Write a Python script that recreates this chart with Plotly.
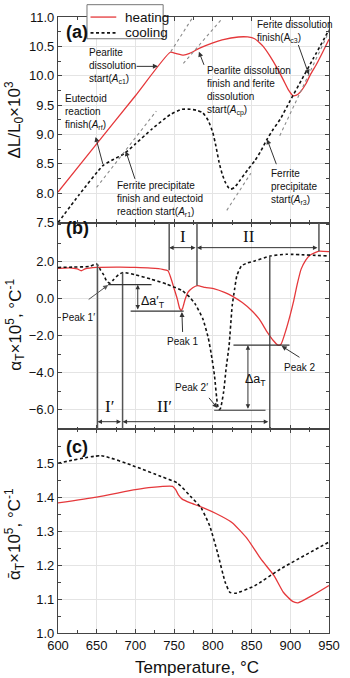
import plotly.graph_objects as go
from plotly.subplots import make_subplots

# ---------------- (a) relative length change, x10^3 ----------------
heat_a_T = [600, 645, 700, 745, 752, 762, 770, 783, 800, 812, 833, 845, 854, 865,
            874, 883, 891, 898, 903.5, 908, 912, 920, 926, 934, 941, 950]
heat_a_v = [8.02, 8.76, 9.66, 10.40, 10.38, 10.35, 10.38, 10.47, 10.56, 10.61, 10.66,
            10.66, 10.63, 10.50, 10.33, 10.13, 9.93, 9.75, 9.66, 9.67, 9.71, 9.86,
            10.02, 10.20, 10.38, 10.62]
cool_a_T = [600, 627, 658, 672, 685, 700, 721, 745, 760, 771, 780, 787, 794, 800, 804,
            808, 812, 816, 820, 823, 828, 835, 845, 854, 862, 870, 878, 887, 900, 915,
            930, 950]
cool_a_v = [7.50, 7.97, 8.47, 8.58, 8.67, 8.84, 9.09, 9.34, 9.43, 9.43, 9.41, 9.37,
            9.24, 9.03, 8.80, 8.53, 8.33, 8.19, 8.10, 8.07, 8.10, 8.22, 8.40, 8.55,
            8.72, 8.92, 9.09, 9.26, 9.58, 9.94, 10.30, 10.78]

# tangent construction lines (start/end temperature and value)
tangents = [
    ([745.7, 774.3], [10.41, 11.0]),
    ([761.9, 810.5], [10.21, 10.95]),
    ([886.4, 950.0], [8.98, 10.75]),
    ([818.0, 849.0], [7.71, 8.34]),
    ([649.8, 727.0], [8.10, 9.40]),
]

# ---------------- (b) instantaneous CTE, x10^5 ----------------
heat_b_T = [600, 615, 625, 630, 635, 650, 680, 700, 720, 735, 742, 746, 750, 754, 757,
            759, 761, 764, 768, 774, 780, 790, 802, 815, 825, 838, 850, 860, 870, 878,
            884, 888, 895, 900, 904, 909, 914, 920, 925, 932, 937, 950]
heat_b_v = [1.65, 1.68, 1.62, 1.52, 1.62, 1.70, 1.72, 1.70, 1.66, 1.60, 1.52, 1.10,
            0.55, 0.00, -0.50, -0.62, -0.50, -0.05, 0.36, 0.60, 0.72, 0.62, 0.54, 0.35,
            0.15, -0.20, -0.63, -1.10, -1.78, -2.25, -2.50, -2.45, -1.60, -0.85, -0.18,
            0.80, 1.61, 2.10, 2.35, 2.50, 2.58, 2.55]
cool_b_T = [600, 620, 640, 650, 655, 659, 663, 667, 672, 678, 684, 700, 720, 740, 760,
            770, 777, 787, 794, 798, 802, 806, 808, 810, 814, 817, 821, 825, 828, 831,
            837, 845, 854, 874, 895, 950]
cool_b_v = [1.70, 1.72, 1.75, 1.88, 1.55, 1.30, 0.95, 0.85, 1.05, 1.30, 1.43, 1.30,
            1.07, 0.80, 0.45, 0.10, -0.27, -1.07, -2.10, -3.00, -4.11, -5.72, -5.98,
            -5.90, -5.00, -3.80, -2.50, -0.36, 0.50, 1.25, 1.79, 1.95, 2.05, 2.32,
            2.41, 2.32]

# ---------------- (c) mean CTE, x10^5 ----------------
heat_c_T = [600, 650, 700, 721, 748, 752, 756, 760, 771, 783, 804, 825, 845, 862, 879,
            891, 903, 910, 928, 950]
heat_c_v = [1.383, 1.400, 1.422, 1.429, 1.432, 1.422, 1.405, 1.395, 1.383, 1.373,
            1.352, 1.325, 1.276, 1.218, 1.169, 1.120, 1.093, 1.089, 1.110, 1.140]
cool_c_T = [600, 656, 700, 733, 754, 771, 785, 796, 806, 816, 822, 829, 854, 887, 950]
cool_c_v = [1.500, 1.522, 1.490, 1.461, 1.442, 1.403, 1.368, 1.315, 1.237, 1.149,
            1.120, 1.117, 1.139, 1.188, 1.268]

x_ticks = [600, 650, 700, 750, 800, 850, 900, 950]
series_names = ["heating", "cooling"]

RED = "#e5383b"
INK = "#111111"
GREY = "#555555"
SANS = "Liberation Sans, Arial, sans-serif"
SERIF = "Liberation Serif, Times New Roman, serif"

fig = make_subplots(rows=3, cols=1, shared_xaxes=True, vertical_spacing=0)

heat_line = dict(color=RED, width=1.3)
cool_line = dict(color=INK, width=1.6, dash="3px,2.5px")

for row, (hT, hv, cT, cv) in enumerate([
        (heat_a_T, heat_a_v, cool_a_T, cool_a_v),
        (heat_b_T, heat_b_v, cool_b_T, cool_b_v),
        (heat_c_T, heat_c_v, cool_c_T, cool_c_v)], start=1):
    fig.add_trace(go.Scatter(x=hT, y=hv, mode="lines", name=series_names[0],
                             line=dict(**heat_line, shape="spline", smoothing=0.5),
                             showlegend=False), row=row, col=1)
    fig.add_trace(go.Scatter(x=cT, y=cv, mode="lines", name=series_names[1],
                             line=dict(**cool_line, shape="spline", smoothing=0.5),
                             showlegend=False), row=row, col=1)

for tx, ty in tangents:
    fig.add_trace(go.Scatter(x=tx, y=ty, mode="lines", showlegend=False,
                             line=dict(color="#8a8a8a", width=1.1, dash="dot")),
                  row=1, col=1)

annotations = []
shapes = []


def label(text, x, y, xref, yref, size=10, anchor="left", font=SANS, **kw):
    annotations.append(dict(text=text, x=x, y=y, xref=xref, yref=yref, showarrow=False,
                            xanchor=anchor, yanchor="middle", align=anchor,
                            font=dict(family=font, size=size, color=INK), **kw))


def arrow(head, tail, xref, yref, both=False, color="#333333", size=1.0):
    annotations.append(dict(text="", x=head[0], y=head[1], ax=tail[0], ay=tail[1],
                            xref=xref, yref=yref, axref=xref, ayref=yref,
                            showarrow=True, arrowhead=2, arrowsize=size, arrowwidth=1,
                            arrowcolor=color,
                            arrowside="end+start" if both else "end"))


# ---- panel (a) notes ----
label("Pearlite<br>dissolution<br>start(<i>A</i><sub>c1</sub>)", 637.4, 10.17, "x", "y")
arrow((729, 10.16), (699.6, 10.16), "x", "y")
label("Eutectoid<br>reaction<br>finish(<i>A</i><sub>rf</sub>)", 606.2, 9.38, "x", "y")
arrow((648.6, 8.96), (658.5, 8.47), "x", "y")
label("Pearlite dissolution<br>finish and ferite<br>dissolution<br>start(<i>A</i><sub>cp</sub>)",
      789.3, 9.74, "x", "y")
arrow((782, 10.41), (789.3, 10.16), "x", "y")
label("Ferite dissolution<br>finish(A<sub>c3</sub>)", 854, 10.76, "x", "y")
arrow((924, 10.02), (909.7, 10.55), "x", "y")
label("Ferrite precipitate<br>finish and eutectoid<br>reaction start(<i>A</i><sub>r1</sub>)",
      673.5, 7.91, "x", "y")
arrow((687.5, 8.72), (700, 8.22), "x", "y")
label("Ferrite<br>precipitate<br>start(<i>A</i><sub>r3</sub>)", 872.7, 8.10, "x", "y")
arrow((870, 8.92), (882.7, 8.47), "x", "y")


# ---- panel (b) construction ----
def seg(x0, y0, x1, y1, xref="x2", yref="y2", width=1.5, color=GREY, dash=None):
    shapes.append(dict(type="line", x0=x0, y0=y0, x1=x1, y1=y1, xref=xref, yref=yref,
                       line=dict(color=color, width=width, dash=dash)))


B_TOP, B_BOT = 4.12, -7.05
seg(743.6, B_TOP, 743.6, 1.55)
seg(779.5, B_TOP, 779.5, 0.72)
seg(937.0, B_TOP, 937.0, 2.58)
seg(651.0, B_BOT, 651.0, 1.88)
seg(683.4, B_BOT, 683.4, 1.43)
seg(873.5, B_BOT, 873.5, 2.32)
seg(664.8, 0.77, 720.8, 0.77, width=1.2, color="#333333")
seg(693.8, -0.66, 762.3, -0.66, width=1.2, color="#333333")
seg(826.6, -2.50, 899.0, -2.50, width=1.2, color="#333333")
seg(801.7, -6.02, 868.0, -6.02, width=1.2, color="#333333")

arrow((743.6, 2.77), (779.5, 2.77), "x2", "y2", both=True, size=0.9)
arrow((779.5, 2.77), (937.0, 2.77), "x2", "y2", both=True, size=0.9)
arrow((651.0, -6.64), (683.4, -6.64), "x2", "y2", both=True, size=0.9)
arrow((683.4, -6.64), (873.5, -6.64), "x2", "y2", both=True, size=0.9)
arrow((703.0, 0.77), (703.0, -0.66), "x2", "y2", both=True, size=0.9)
arrow((845.3, -2.50), (845.3, -6.02), "x2", "y2", both=True, size=0.9)

label("I", 761.5, 3.35, "x2", "y2", size=17, anchor="center", font=SERIF)
label("II", 847.0, 3.35, "x2", "y2", size=17, anchor="center", font=SERIF)
label("I\u2032", 667.0, -5.8, "x2", "y2", size=17, anchor="center", font=SERIF)
label("II\u2032", 737.0, -5.8, "x2", "y2", size=17, anchor="center", font=SERIF)
label("\u0394a\u2032<sub>T</sub>", 723.0, -0.16, "x2", "y2", size=12.5, anchor="center")
label("\u0394a<sub>T</sub>", 855.6, -4.38, "x2", "y2", size=12.5, anchor="center")

label("Peak 1\u2032", 626.0, -0.98, "x2", "y2", anchor="center")
arrow((664.8, 0.75), (637.7, -0.09), "x2", "y2", color="#555555")
label("Peak 1", 762.0, -2.32, "x2", "y2", anchor="center")
arrow((760.0, -0.71), (761.0, -1.87), "x2", "y2")
label("Peak 2", 912.6, -3.70, "x2", "y2", anchor="center")
arrow((888.9, -2.55), (913.8, -3.21), "x2", "y2")
label("Peak 2\u2032", 771.8, -4.78, "x2", "y2", anchor="center")
arrow((805.9, -5.90), (793.4, -5.27), "x2", "y2")

# ---- legend box drawn in paper coordinates ----
LX0, LX1, LY0, LY1 = 0.107, 0.388, 0.9647, 1.02
shapes.append(dict(type="rect", xref="paper", yref="paper", x0=LX0, x1=LX1, y0=LY0,
                   y1=LY1, fillcolor="white", line=dict(color="#777777", width=1),
                   layer="above"))
for name, yy, style in [(series_names[0], 0.9999, dict(color=RED, width=1.3)),
                        (series_names[1], 0.9743, dict(color=INK, width=1.6,
                                                       dash="3px,2.5px"))]:
    shapes.append(dict(type="line", xref="paper", yref="paper", x0=0.12, x1=0.215,
                       y0=yy, y1=yy, line=style, layer="above"))
    annotations.append(dict(text=name, x=0.24, y=yy, xref="paper", yref="paper",
                            showarrow=False, xanchor="left", yanchor="middle",
                            font=dict(family=SANS, size=13.5, color=INK)))

# ---- panel tags and axis titles ----
for tag, yv, yr in [("(a)", 10.74, "y"), ("(b)", 3.85, "y2"), ("(c)", 1.548, "y3")]:
    annotations.append(dict(text="<b>%s</b>" % tag, x=608, y=yv, xref="x", yref=yr,
                            showarrow=False, xanchor="left", yanchor="middle",
                            font=dict(family=SANS, size=18, color=INK)))

for text, py in [("\u0394L/L<sub>0</sub>\u00d710<sup>3</sup>", 0.833),
                 ("\u03b1<sub>T</sub>\u00d710<sup>5</sup>, \u00b0C<sup>-1</sup>", 0.50),
                 ("\u03b1\u0304<sub>T</sub>\u00d710<sup>5</sup>, \u00b0C<sup>-1</sup>", 0.16)]:
    annotations.append(dict(text=text, x=-0.16, y=py, xref="paper", yref="paper",
                            showarrow=False, textangle=-90, xanchor="center",
                            yanchor="middle", font=dict(family=SANS, size=17, color=INK)))

annotations.append(dict(text="Temperature, \u00b0C", x=0.512, y=-0.056, xref="paper",
                        yref="paper", showarrow=False, xanchor="center", yanchor="middle",
                        font=dict(family=SANS, size=17, color=INK)))

axis_common = dict(showline=True, linecolor="#444444", linewidth=1.2, mirror="allticks",
                   ticks="inside", ticklen=4, tickcolor="#444444", showgrid=True,
                   gridcolor="#e4e4e4", gridwidth=1, zeroline=False,
                   tickfont=dict(family=SANS, size=13, color=INK))

for name in ["xaxis", "xaxis2", "xaxis3"]:
    fig.update_layout({name: dict(axis_common, range=[600, 950], tickvals=x_ticks,
                                  ticklabeloverflow="allow",
                                  minor=dict(dtick=25, tick0=600, ticks="inside",
                                             ticklen=2.5, tickcolor="#444444",
                                             showgrid=False),
                                  showticklabels=(name == "xaxis3"))})

fig.update_layout(
    yaxis=dict(axis_common, domain=[0.6661, 1.0], range=[7.5, 11.0],
               tickvals=[7.5, 8.0, 8.5, 9.0, 9.5, 10.0, 10.5, 11.0], tickformat=".1f",
               minor=dict(dtick=0.25, tick0=7.5, ticks="inside", ticklen=2.5,
                          tickcolor="#444444", showgrid=False)),
    yaxis2=dict(axis_common, domain=[0.3307, 0.6661], range=[B_BOT, B_TOP],
                tickvals=[-6, -4, -2, 0, 2], tickformat=".1f",
                minor=dict(dtick=1, tick0=0, ticks="inside", ticklen=2.5,
                           tickcolor="#444444", showgrid=False)),
    yaxis3=dict(axis_common, domain=[0.0, 0.3307], range=[1.0, 1.6],
                tickvals=[1.0, 1.1, 1.2, 1.3, 1.4, 1.5], tickformat=".1f",
                minor=dict(dtick=0.05, tick0=1.0, ticks="inside", ticklen=2.5,
                           tickcolor="#444444", showgrid=False)),
)

fig.update_layout(
    width=350, height=678,
    margin=dict(l=58, r=11, t=10, b=45),
    paper_bgcolor="white", plot_bgcolor="white",
    font=dict(family=SANS, color=INK),
    showlegend=False,
    annotations=annotations,
    shapes=shapes,
)

fig.write_html("out.html")
